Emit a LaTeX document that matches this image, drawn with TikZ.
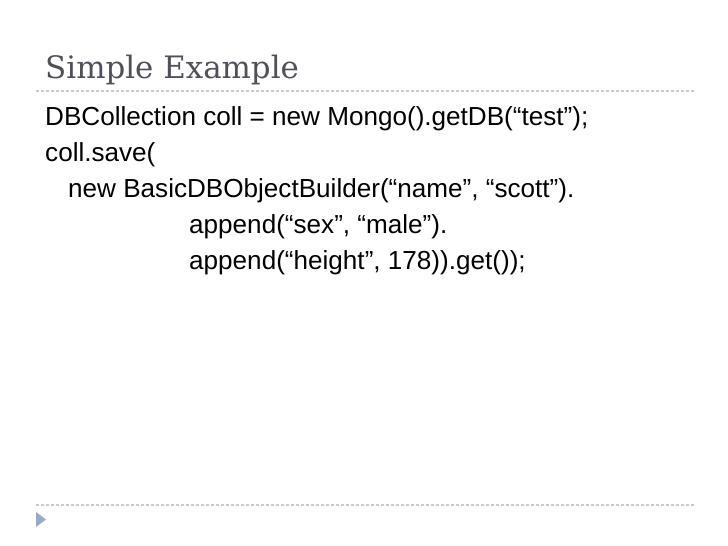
\documentclass[tikz,border=0pt]{standalone}
\usepackage{fontspec}
\setmainfont{Liberation Sans}
\newfontfamily\titlefont{DejaVu Serif}
\usepackage{tikz}
\usetikzlibrary{positioning, calc}
\definecolor{titlegrey}{RGB}{80, 80, 90}
\definecolor{rulegrey}{RGB}{196, 202, 212}
\definecolor{bulletblue}{RGB}{150, 172, 198}
\tikzset{
    title/.style={anchor=base west, inner sep=0pt, text=titlegrey, font=\titlefont\fontsize{30.9}{34}\selectfont},
    codeline/.style={anchor=base west, inner sep=0pt, text=black, font=\fontsize{26.1}{31}\selectfont},
    rule/.style={rulegrey, line width=1.2pt, dash pattern=on 3pt off 2pt},
    bullet/.style={fill=bulletblue, draw=none}
}
\begin{document}
\begin{tikzpicture}[x=1pt, y=-1pt]
        \useasboundingbox[fill=white] (0,0) rectangle (728,546);

        % Title and the rules round the slide body
        \node[title] (ttl) at (45, 78) {Simple Example};
        \coordinate (rtl) at (36, 91);
        \coordinate (rtr) at (696, 91);
        \coordinate (rbl) at (36, 505);
        \coordinate (rbr) at (696, 505);
        \draw[rule] (rtl) -- (rtr);
        \draw[rule] (rbl) -- (rbr);
        \fill[bullet] (36, 512) -- (46, 519.5) -- (36, 527) -- cycle;

        % Code lines
        \node[codeline] (l1) at (45, 125) {DBCollection coll = new Mongo().getDB(“test”);};
        \node[codeline] (l2) at (45, 161) {coll.save(};
        \node[codeline] (l3) at (68, 197) {new BasicDBObjectBuilder(“name”, “scott”).};
        \node[codeline] (l4) at (189, 233) {append(“sex”, “male”).};
        \node[codeline] (l5) at (189, 269) {append(“height”, 178)).get());};
    \end{tikzpicture}
\end{document}
